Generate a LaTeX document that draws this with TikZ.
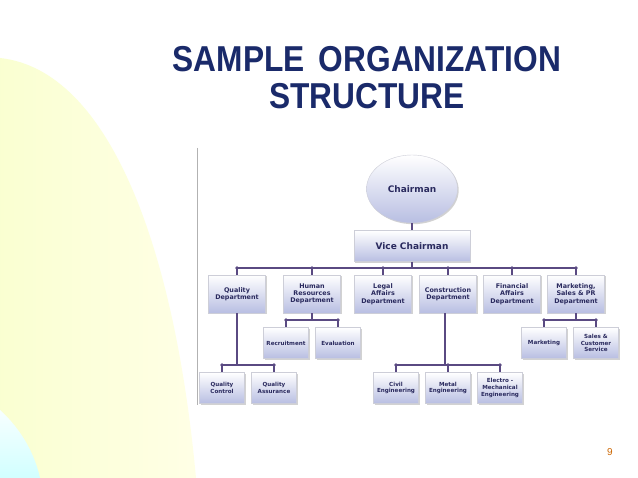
\documentclass[tikz,border=0pt]{standalone}
\usepackage{fontspec}
\setmainfont{DejaVu Sans}
\newfontfamily\titlef{Liberation Sans}
\usetikzlibrary{shapes.geometric,shadows}
\definecolor{navy}{HTML}{1A2A6A}
\definecolor{txt}{HTML}{2A2A5E}
\definecolor{ln}{HTML}{5A4A82}
\definecolor{bfill}{HTML}{B8BEE2}
\tikzset{
 box/.style={draw=bfill!70!black!40, top color=white, bottom color=bfill,
   drop shadow={shadow xshift=1.2pt,shadow yshift=-1.2pt,opacity=.35},
   font=\fontsize{6.4}{7.3}\selectfont\bfseries, text=txt, align=center, inner sep=0pt},
 dept/.style={box, minimum width=57, minimum height=38},
 sub/.style={box, minimum width=45, minimum height=31, font=\fontsize{5.6}{6.6}\selectfont\bfseries},
 conn/.style={draw=ln, line width=1.3pt},
 dot/.style={circle, fill=ln, inner sep=0pt, minimum size=3.6pt},
}
\begin{document}
\begin{tikzpicture}[x=1pt,y=-1pt]
\useasboundingbox (0,0) rectangle (638,478);
\fill[white] (0,0) rectangle (638,478);
% background decoration
\shade[left color=green!12!yellow!18, right color=yellow!10]
 (0,58) .. controls (110,70) and (175,250) .. (196,478) -- (0,478) -- cycle;
\shade[top color=cyan!3, bottom color=cyan!18] (0,410) .. controls (22,430) and (35,455) .. (40,478) -- (0,478) -- cycle;
\draw[gray!60, line width=1pt] (197,148) -- (197,405);
% title
\node[font=\titlef\fontsize{36}{37}\selectfont\bfseries, text=navy, align=center] (title) at (367,78)
 {\scalebox{0.88}[1]{SAMPLE\, ORGANIZATION}\\\scalebox{0.88}[1]{STRUCTURE}};
\node[text=orange!80!black, font=\titlef\fontsize{10}{12}\selectfont] (pg) at (610,452) {9};
% nodes
\node[ellipse, box, minimum width=91, minimum height=68, font=\fontsize{9}{10}\selectfont\bfseries] (ch) at (412,189) {Chairman};
\node[box, minimum width=116, minimum height=31, font=\fontsize{9}{10}\selectfont\bfseries] (vc) at (412,246) {Vice Chairman};
\node[dept] (q) at (237,294) {Quality\\Department};
\node[dept] (hr) at (312,294) {Human\\Resources\\Department};
\node[dept] (la) at (383,294) {Legal\\Affairs\\Department};
\node[dept] (co) at (448,294) {Construction\\Department};
\node[dept] (fa) at (512,294) {Financial\\Affairs\\Department};
\node[dept] (mk) at (576,294) {Marketing,\\Sales \& PR\\Department};
\node[sub] (rec) at (286,343) {Recruitment};
\node[sub] (ev) at (338,343) {Evaluation};
\node[sub] (mar) at (544,343) {Marketing};
\node[sub] (sal) at (596,343) {Sales \&\\Customer\\Service};
\node[sub] (qc) at (222,388) {Quality\\Control};
\node[sub] (qa) at (274,388) {Quality\\Assurance};
\node[sub] (ci) at (396,388) {Civil\\Engineering};
\node[sub] (me) at (448,388) {Metal\\Engineering};
\node[sub] (el) at (500,388) {Electro -\\Mechanical\\Engineering};
% connectors
\coordinate (b1) at (412,268);
\draw[conn] (ch) -- (vc);
\draw[conn] (vc) -- (b1);
\draw[conn] (q.north |- b1) -- (mk.north |- b1);
\foreach \n in {q,hr,la,co,fa,mk}{\draw[conn] (\n.north |- b1) -- (\n.north); \node[dot] at (\n.north |- b1) {};}
\coordinate (b2) at (312,320);
\draw[conn] (hr) -- (b2);
\draw[conn] (rec.north |- b2) -- (ev.north |- b2);
\foreach \n in {rec,ev}{\draw[conn] (\n.north |- b2) -- (\n.north); \node[dot] at (\n.north |- b2) {};}
\coordinate (b3) at (576,320);
\draw[conn] (mk) -- (b3);
\draw[conn] (mar.north |- b3) -- (sal.north |- b3);
\foreach \n in {mar,sal}{\draw[conn] (\n.north |- b3) -- (\n.north); \node[dot] at (\n.north |- b3) {};}
\coordinate (b4) at (237,365);
\draw[conn] (q) -- (b4);
\draw[conn] (qc.north |- b4) -- (qa.north |- b4);
\foreach \n in {qc,qa}{\draw[conn] (\n.north |- b4) -- (\n.north); \node[dot] at (\n.north |- b4) {};}
\coordinate (b5) at (445,365);
\draw[conn] (co.south -| b5) -- (b5);
\draw[conn] (ci.north |- b5) -- (el.north |- b5);
\foreach \n in {ci,me,el}{\draw[conn] (\n.north |- b5) -- (\n.north); \node[dot] at (\n.north |- b5) {};}
\end{tikzpicture}
\end{document}
